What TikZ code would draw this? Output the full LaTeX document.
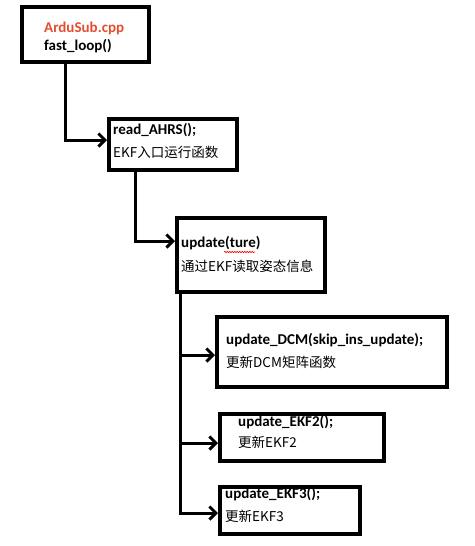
\documentclass[tikz,border=0pt]{standalone}
\usepackage{fontspec}
\setmainfont{Carlito}
\newfontfamily\cjk{Noto Sans CJK SC}
\usetikzlibrary{arrows.meta,decorations.pathmorphing}
\definecolor{redtxt}{RGB}{228,78,48}
\tikzset{
  box/.style={draw=black,line width=3.5pt,rectangle,inner sep=0pt,anchor=north west},
  code/.style={anchor=west,inner sep=0pt,font=\bfseries\fontsize{15}{17}\selectfont},
  desc/.style={anchor=west,inner sep=0pt,font=\cjk\fontsize{13.5}{15}\selectfont},
  conn/.style={draw=black,line width=3pt},
  arr/.style={conn,-{Straight Barb[length=6.5pt,width=13pt]}},
}
\begin{document}
\begin{tikzpicture}[x=1pt,y=1pt]
\useasboundingbox[fill=white] (0,0) rectangle (474,-546);
% boxes
\node[box,minimum width=127pt,minimum height=55pt] (b1) at (20,-5) {};
\node[box,minimum width=128pt,minimum height=51pt] (b2) at (107,-117) {};
\node[box,minimum width=148pt,minimum height=74pt] (b3) at (175,-216) {};
\node[box,minimum width=230pt,minimum height=70pt] (b4) at (215,-315) {};
\node[box,minimum width=164pt,minimum height=47pt] (b5) at (218,-412) {};
\node[box,minimum width=140pt,minimum height=47pt] (b6) at (218,-485) {};
% texts
\node[code,text=redtxt] (t1a) at (44,-28) {ArduSub.cpp};
\node[code] (t1b) at (44,-46) {fast\_loop()};
\node[code] (t2a) at (113,-130) {read\_AHRS();};
\node[desc] (t2b) at (113,-152) {EKF入口运行函数};
\node[code] (t3a) at (181,-243) {update(ture)};
\node[desc] (t3b) at (181,-266) {通过EKF读取姿态信息};
\node[code] (t4a) at (226,-340) {update\_DCM(skip\_ins\_update);};
\node[desc] (t4b) at (226,-362) {更新DCM矩阵函数};
\node[code] (t5a) at (238,-422) {update\_EKF2();};
\node[desc] (t5b) at (238,-442) {更新EKF2};
\node[code] (t6a) at (225,-494) {update\_EKF3();};
\node[desc] (t6b) at (225,-516) {更新EKF3};
% spell-check squiggle
\draw[red,line width=0.6pt,decorate,decoration={snake,amplitude=0.7pt,segment length=2.5pt}] (224,-252) -- (255,-252);
% junctions
\coordinate (j1) at (65,-140);
\coordinate (j2) at (135,-241);
\coordinate (j3) at (180,-355);
\coordinate (j4) at (180,-443);
\coordinate (j5) at (180,-513);
% connectors
\draw[arr] (b1.south -| j1) -- (j1) -- (j1 -| b2.west);
\draw[arr] (b2.south -| j2) -- (j2) -- (j2 -| b3.west);
\draw[arr] (b3.south -| j5) -- (j5) -- (j5 -| b6.west);
\draw[arr] (j3) -- (j3 -| b4.west);
\draw[arr] (j4) -- (j4 -| b5.west);
\end{tikzpicture}
\end{document}
